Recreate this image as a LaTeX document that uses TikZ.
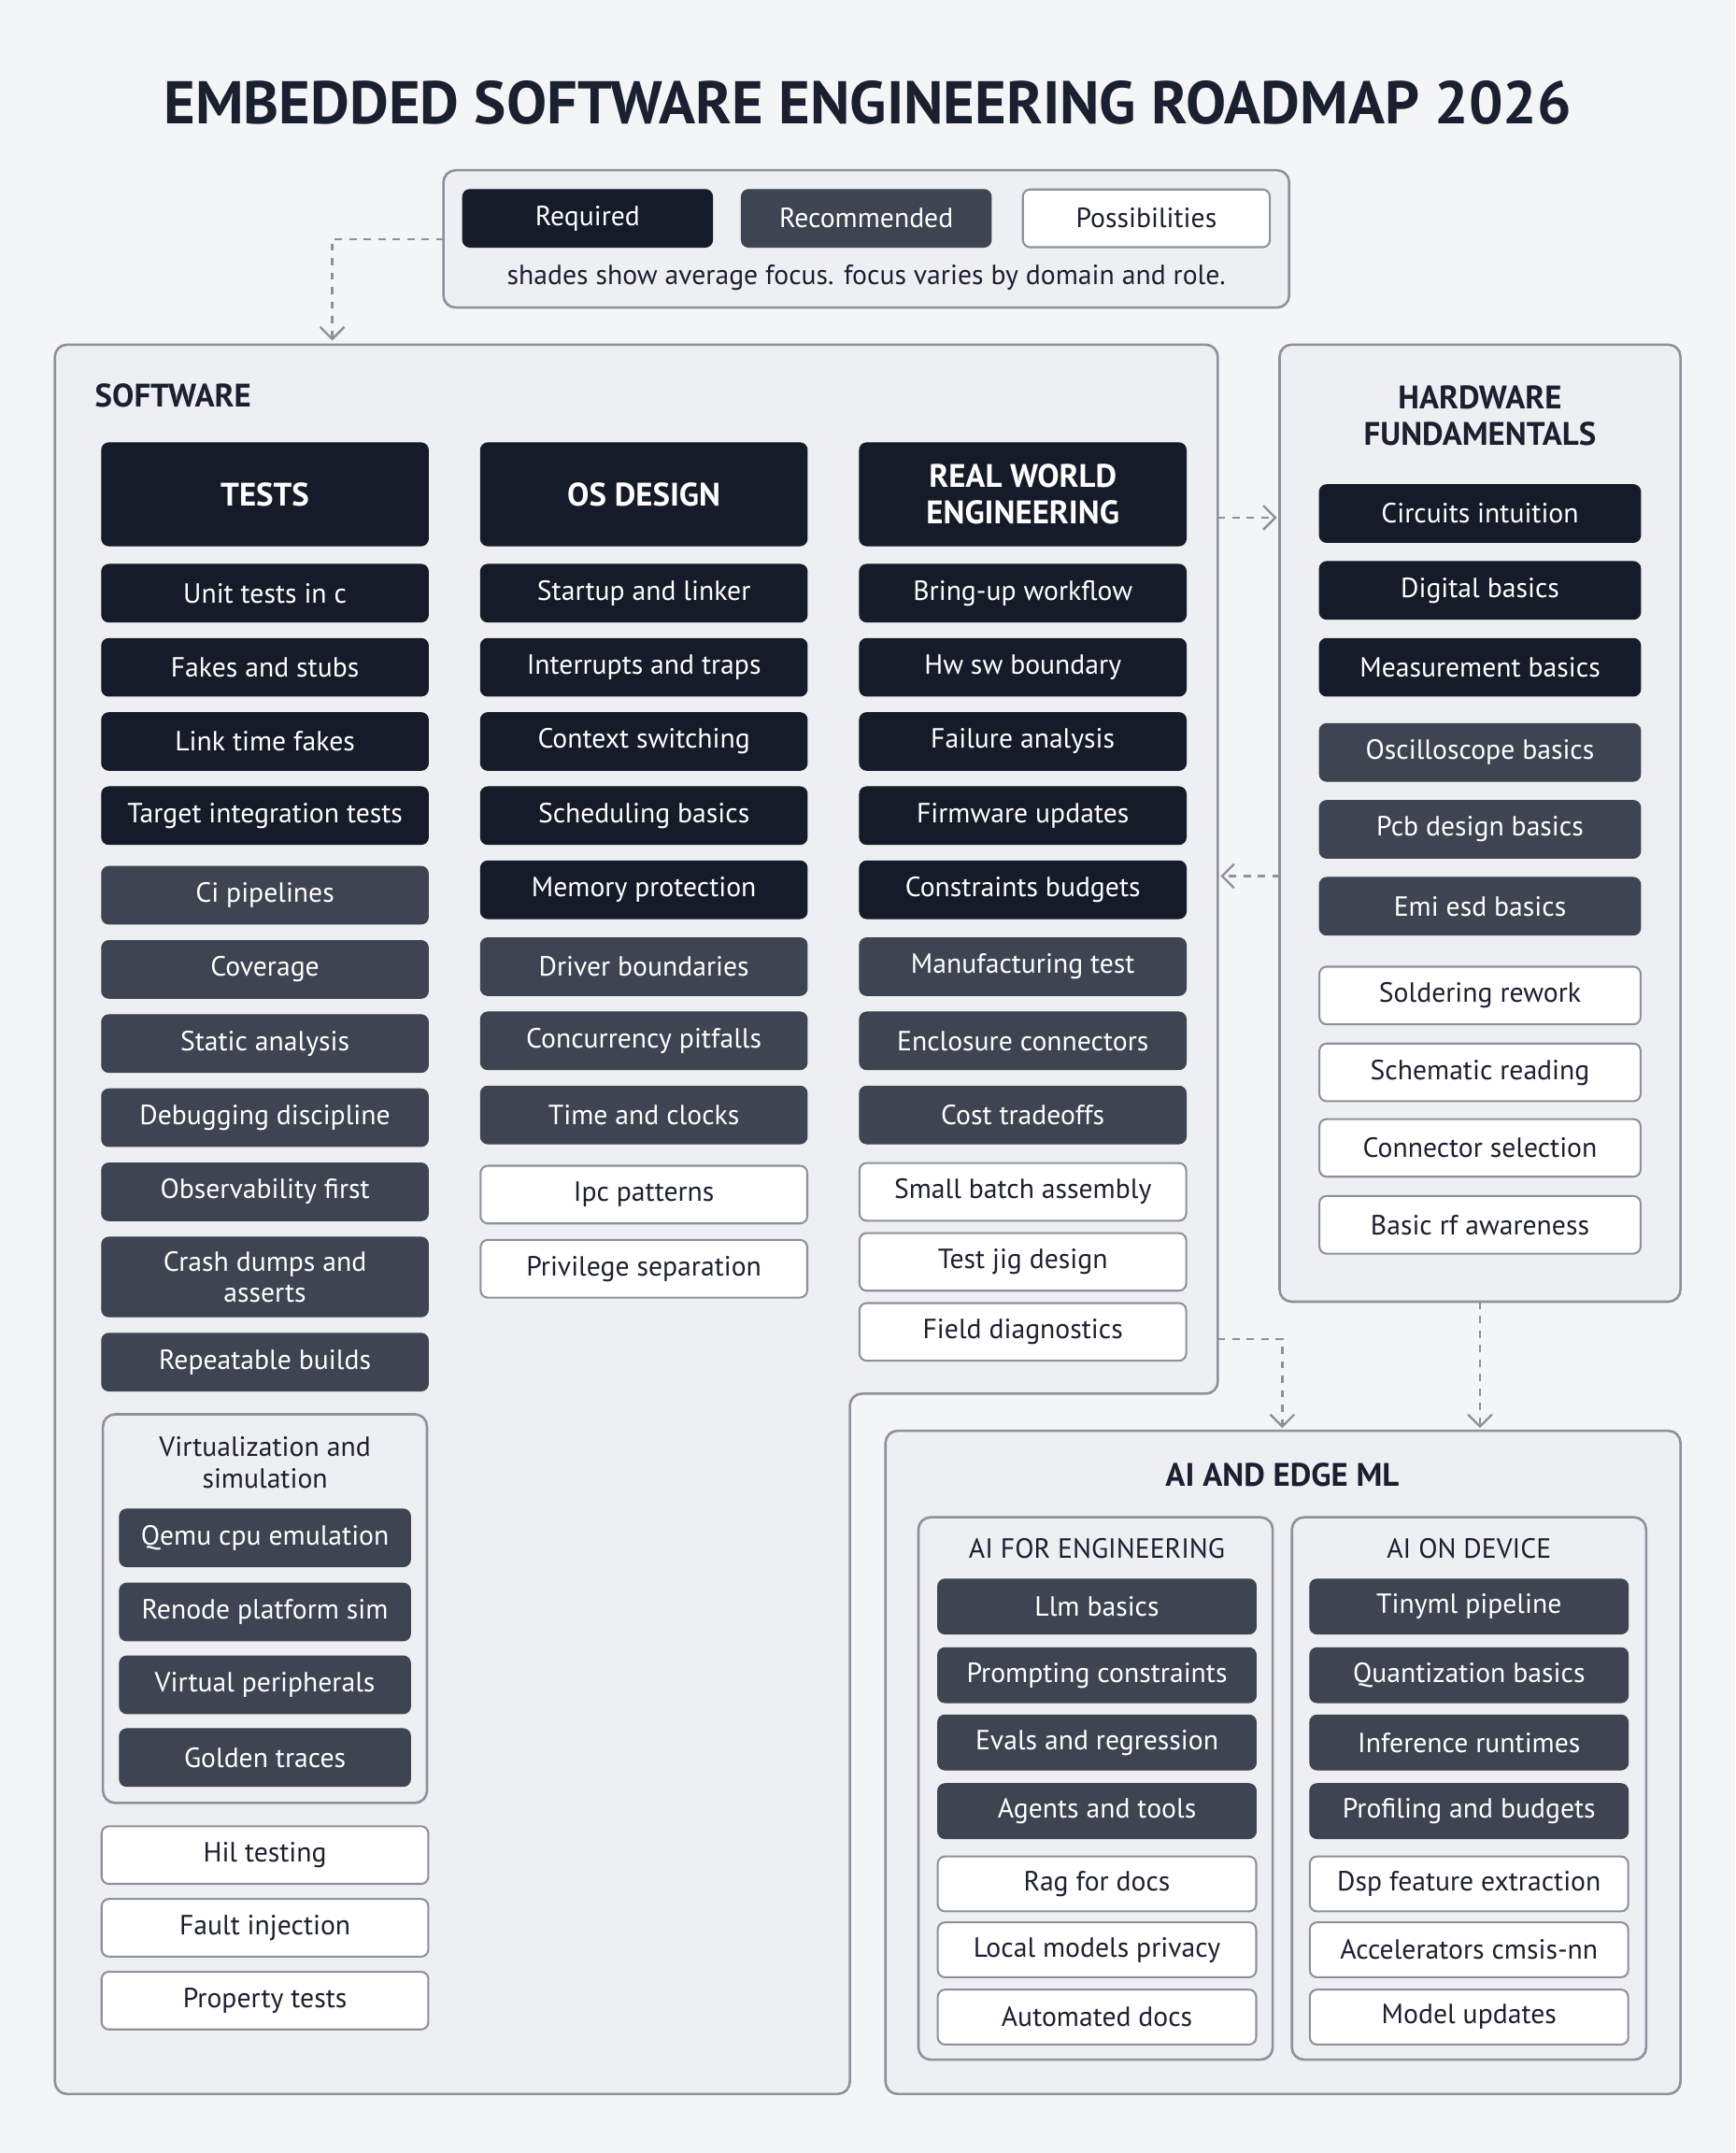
\documentclass[tikz,border=0pt]{standalone}
\usepackage{fontspec}
\setmainfont{PT Sans}
\usetikzlibrary{arrows.meta}
\definecolor{bgpage}{HTML}{F4F5F7}
\definecolor{panelfill}{HTML}{EDEFF2}
\definecolor{panelline}{HTML}{8C929B}
\definecolor{reqfill}{HTML}{161B2A}
\definecolor{recfill}{HTML}{3E4451}
\definecolor{inkdark}{HTML}{1B2030}
\tikzset{
  x=0.02cm, y=-0.02cm,
  item/.style = {rectangle, rounded corners=3pt, minimum width=4.76cm, minimum height=0.84cm,
                 align=center, inner sep=2pt, font=\fontsize{11.5}{13}\selectfont},
  reqbox/.style = {item, fill=reqfill, draw=reqfill, text=white},
  recbox/.style = {item, fill=recfill, draw=recfill, text=white},
  optbox/.style = {item, fill=white, draw=panelline, line width=0.8pt, text=inkdark},
  header/.style = {reqbox, minimum height=1.5cm, font=\fontsize{13.5}{15}\selectfont\bfseries},
  panel/.style = {draw=panelline, line width=1pt, fill=panelfill, rounded corners=5pt},
  paneltitle/.style = {text=inkdark, font=\fontsize{13.5}{15}\selectfont\bfseries, align=center},
  subtitle/.style = {text=inkdark, font=\fontsize{11.5}{13}\selectfont, align=center},
  link/.style = {draw=panelline, dashed, line width=0.9pt, -{Straight Barb[length=5pt]}}
}
\begin{document}
\begin{tikzpicture}
  \useasboundingbox [fill=bgpage] (0,0) rectangle (1264,1568);

  % Title.
  \node (title) at (632,75) [text=inkdark, font=\fontsize{25}{28}\selectfont\bfseries] {EMBEDDED SOFTWARE ENGINEERING ROADMAP 2026};

  % Legend.
  \draw [panel] (323,124) rectangle (939,224);
  \node (legReq) at (428,159) [reqbox, minimum width=3.64cm] {Required};
  \node (legRec) at (631,159) [recbox, minimum width=3.64cm] {Recommended};
  \node (legOpt) at (835,159) [optbox, minimum width=3.6cm] {Possibilities};
  \node (legNote) at (631,202) [subtitle] {shades show average focus. focus varies by domain and role.};

  % Panels.
  \draw [panel] (40,251) -- (887,251) -- (887,1015) -- (619,1015) -- (619,1525) -- (40,1525) -- cycle;
  \draw [panel] (932,251) rectangle (1224,948);
  \draw [panel] (645,1042) rectangle (1224,1525);
  \draw [panel] (75,1030) rectangle (311,1313);
  \draw [panel] (669,1105) rectangle (927,1500);
  \draw [panel] (941,1105) rectangle (1199,1500);

  \node (swTitle) at (63,288) [paneltitle, anchor=west] {SOFTWARE};
  \node (hwTitle) at (1078,303) [paneltitle] {HARDWARE\\FUNDAMENTALS};
  \node (aiTitle) at (934,1074) [paneltitle] {AI AND EDGE ML};
  \node (virtTitle) at (193,1065) [subtitle] {Virtualization and\\simulation};
  \node (aiEngTitle) at (799,1128) [subtitle] {AI FOR ENGINEERING};
  \node (aiDevTitle) at (1070,1128) [subtitle] {AI ON DEVICE};

  % Column headers.
  \node (Tests) at (193,360) [header] {TESTS};
  \node (OsDesign) at (469,360) [header] {OS DESIGN};
  \node (RealWorld) at (745,360) [header, align=center] {REAL WORLD\\ENGINEERING};

  % Tests.
  \foreach \txt/\st/\yy [count=\i] in {Unit tests in c/reqbox/432, Fakes and stubs/reqbox/486,
      Link time fakes/reqbox/540, Target integration tests/reqbox/594, Ci pipelines/recbox/652,
      Coverage/recbox/706, Static analysis/recbox/760, Debugging discipline/recbox/814,
      Observability first/recbox/868, Repeatable builds/recbox/992,
      Hil testing/optbox/1351, Fault injection/optbox/1404, Property tests/optbox/1457}
    \node (test\i) at (193,\yy) [\st] {\txt};
  \node (testCrash) at (193,930) [recbox, minimum height=1.16cm] {Crash dumps and\\asserts};

  % Virtualization.
  \foreach \txt/\yy [count=\i] in {Qemu cpu emulation/1120, Renode platform sim/1174,
      Virtual peripherals/1227, Golden traces/1280}
    \node (virt\i) at (193,\yy) [recbox, minimum width=4.24cm] {\txt};

  % OS design.
  \foreach \txt/\st/\yy [count=\i] in {Startup and linker/reqbox/432, Interrupts and traps/reqbox/486,
      Context switching/reqbox/540, Scheduling basics/reqbox/594, Memory protection/reqbox/648,
      Driver boundaries/recbox/704, Concurrency pitfalls/recbox/758, Time and clocks/recbox/812,
      Ipc patterns/optbox/870, Privilege separation/optbox/924}
    \node (os\i) at (469,\yy) [\st] {\txt};

  % Real world engineering.
  \foreach \txt/\st/\yy [count=\i] in {Bring-up workflow/reqbox/432, Hw sw boundary/reqbox/486,
      Failure analysis/reqbox/540, Firmware updates/reqbox/594, Constraints budgets/reqbox/648,
      Manufacturing test/recbox/704, Enclosure connectors/recbox/758, Cost tradeoffs/recbox/812,
      Small batch assembly/optbox/868, Test jig design/optbox/919, Field diagnostics/optbox/970}
    \node (rw\i) at (745,\yy) [\st] {\txt};

  % Hardware fundamentals.
  \foreach \txt/\st/\yy [count=\i] in {Circuits intuition/reqbox/374, Digital basics/reqbox/430,
      Measurement basics/reqbox/486, Oscilloscope basics/recbox/548, Pcb design basics/recbox/604,
      Emi esd basics/recbox/660, Soldering rework/optbox/725, Schematic reading/optbox/781,
      Connector selection/optbox/836, Basic rf awareness/optbox/892}
    \node (hw\i) at (1078,\yy) [\st, minimum width=4.68cm] {\txt};

  % AI for engineering and AI on device.
  \foreach \txt/\st/\yy [count=\i] in {Llm basics/recbox/1170, Prompting constraints/recbox/1220,
      Evals and regression/recbox/1269, Agents and tools/recbox/1319, Rag for docs/optbox/1372,
      Local models privacy/optbox/1420, Automated docs/optbox/1469}
    \node (aiEng\i) at (799,\yy) [\st, minimum width=4.64cm, minimum height=0.8cm] {\txt};
  \foreach \txt/\st/\yy [count=\i] in {Tinyml pipeline/recbox/1170, Quantization basics/recbox/1220,
      Inference runtimes/recbox/1269, Profiling and budgets/recbox/1319, Dsp feature extraction/optbox/1372,
      Accelerators cmsis-nn/optbox/1420, Model updates/optbox/1469}
    \node (aiDev\i) at (1070,\yy) [\st, minimum width=4.64cm, minimum height=0.8cm] {\txt};

  % Links between panels.
  \coordinate (legendOut) at (323,174);
  \coordinate (swIn) at (242,248);
  \coordinate (swOutTop) at (887,377);
  \coordinate (hwInTop) at (930,377);
  \coordinate (hwOutMid) at (932,638);
  \coordinate (swInMid) at (889,638);
  \coordinate (swOutLow) at (887,975);
  \coordinate (aiInLeft) at (934,1040);
  \coordinate (hwOutLow) at (1078,948);
  \coordinate (aiInRight) at (1078,1040);
  \draw [link] (legendOut) -| (swIn);
  \draw [link] (swOutTop) -- (hwInTop);
  \draw [link] (hwOutMid) -- (swInMid);
  \draw [link] (swOutLow) -| (aiInLeft);
  \draw [link] (hwOutLow) -- (aiInRight);
\end{tikzpicture}
\end{document}
